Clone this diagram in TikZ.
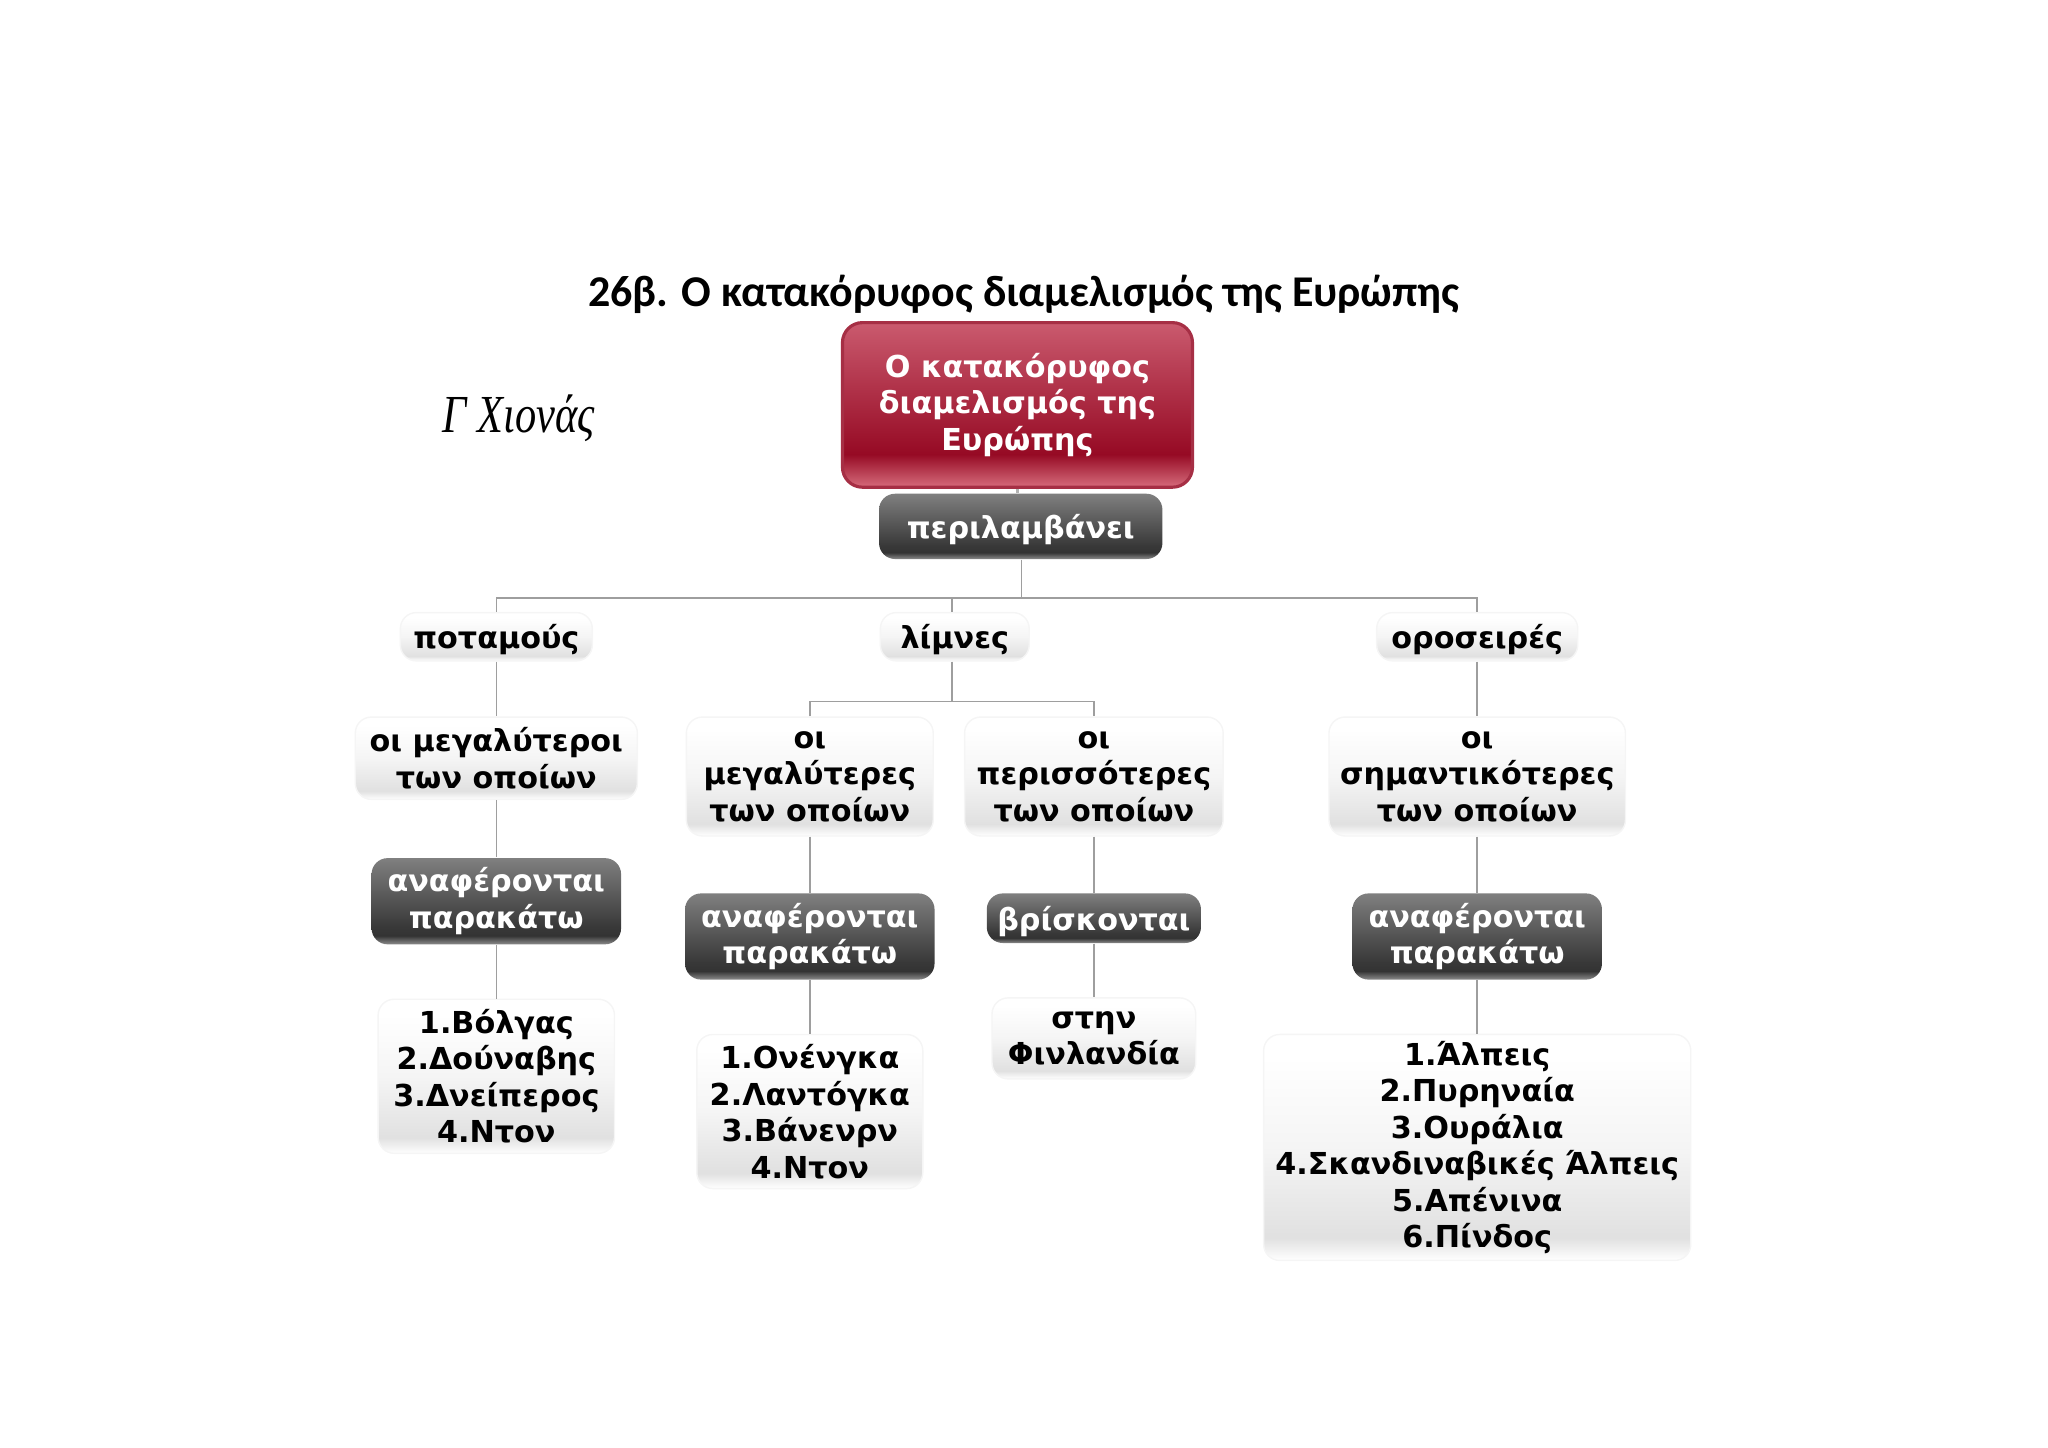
\documentclass[tikz,border=0pt]{standalone}
\usepackage{fontspec}
\newfontfamily\mapfont{DejaVu Sans}
\newfontfamily\titlefont{Carlito}
\newfontfamily\signfont{Liberation Serif}
\usetikzlibrary{positioning}

\pgfdeclareverticalshading{lightfill}{100bp}{
    color(0bp)=(white); color(25bp)=(white); color(30bp)=(black!12);
    color(50bp)=(black!4); color(70bp)=(white); color(100bp)=(white)}
\pgfdeclareverticalshading{darkfill}{100bp}{
    color(0bp)=(black!45); color(25bp)=(black!45); color(30bp)=(black!80);
    color(35bp)=(black!78); color(75bp)=(black!50); color(100bp)=(black!50)}
\definecolor{rootlow}{RGB}{214,108,124}
\definecolor{rootmid}{RGB}{150,10,36}
\definecolor{roottop}{RGB}{202,90,110}
\pgfdeclareverticalshading{rootfill}{100bp}{
    color(0bp)=(rootlow); color(25bp)=(rootlow); color(35bp)=(rootmid);
    color(75bp)=(roottop); color(100bp)=(roottop)}

\tikzset{
    lead/.store in=\leadht, lead=11pt,
    mapbox/.style={align=center, inner sep=0pt, font=\mapfont\bfseries\fontsize{8.6}{10.4}\selectfont,
        execute at begin node=\rule{0pt}{\leadht}},
    oneline/.style={lead=8.6pt},
    lowered/.style={lead=13pt},
    lightbox/.style={mapbox, rounded corners=1.6mm, draw=black!4, line width=0.4pt, shading=lightfill, text=black},
    darkbox/.style={mapbox, rounded corners=1.6mm, shading=darkfill, text=white},
    rootbox/.style={mapbox, rounded corners=2mm, draw=rootmid!85, line width=0.9pt, shading=rootfill, text=white},
    link/.style={draw=black!38, line width=0.45pt}
}

\begin{document}
\begin{tikzpicture}[x=0.013061cm, y=-0.013061cm]
    \useasboundingbox (0,0) rectangle (1568,1108.6);

    % heading and signature
    \node[font=\titlefont\bfseries\fontsize{12.5}{14}\selectfont] (heading) at (784,225) {26β. Ο κατακόρυφος διαμελισμός της Ευρώπης};
    \node[font=\signfont\itshape\fontsize{10.5}{12}\selectfont] (sign) at (397,320) {\scalebox{1.15}[1.45]{Γ Χιονάς}};

    % top
    \node[rootbox, lowered, minimum width=3.50cm, minimum height=1.646cm] (root) at (779,310) {Ο κατακόρυφος\\διαμελισμός της\\Ευρώπης};
    \node[darkbox, oneline, minimum width=2.834cm, minimum height=0.653cm] (incl) at (781.5,403) {περιλαμβάνει};

    % first level
    \node[lightbox, oneline, minimum width=1.92cm, minimum height=0.483cm] (rivers) at (380,487.5) {ποταμούς};
    \node[lightbox, oneline, minimum width=1.489cm, minimum height=0.483cm] (lakes) at (731,487.5) {λίμνες};
    \node[lightbox, oneline, minimum width=2.011cm, minimum height=0.483cm] (ranges) at (1131,487.5) {οροσειρές};

    % second level
    \node[lightbox, minimum width=2.821cm, minimum height=0.823cm] (bigriv) at (380,580.5) {οι μεγαλύτεροι\\των οποίων};
    \node[lightbox, lowered, minimum width=2.469cm, minimum height=1.189cm] (biglake) at (620,594.5) {οι\\μεγαλύτερες\\των οποίων};
    \node[lightbox, lowered, minimum width=2.586cm, minimum height=1.189cm] (mostlake) at (837.5,594.5) {οι\\περισσότερες\\των οποίων};
    \node[lightbox, lowered, minimum width=2.965cm, minimum height=1.189cm] (mainrange) at (1131,594.5) {οι\\σημαντικότερες\\των οποίων};

    % third level
    \node[darkbox, minimum width=2.495cm, minimum height=0.862cm] (listriv) at (380,690) {αναφέρονται\\παρακάτω};
    \node[darkbox, minimum width=2.495cm, minimum height=0.862cm] (listlake) at (620,717) {αναφέρονται\\παρακάτω};
    \node[darkbox, oneline, minimum width=2.142cm, minimum height=0.496cm] (found) at (837.5,703) {βρίσκονται};
    \node[darkbox, minimum width=2.495cm, minimum height=0.862cm] (listrange) at (1131,717) {αναφέρονται\\παρακάτω};

    % lists
    \node[lightbox, minimum width=2.364cm, minimum height=1.541cm] (volga) at (380,824) {1.Βόλγας\\2.Δούναβης\\3.Δνείπερος\\4.Ντον};
    \node[lightbox, minimum width=2.26cm, minimum height=1.541cm] (onega) at (620,851) {1.Ονένγκα\\2.Λαντόγκα\\3.Βάνενρν\\4.Ντον};
    \node[lightbox, lowered, minimum width=2.037cm, minimum height=0.81cm] (finland) at (837.5,795) {στην\\Φινλανδία};
    \node[lightbox, lowered, minimum width=4.271cm, minimum height=2.26cm] (alps) at (1131,878.5) {1.Άλπεις\\2.Πυρηναία\\3.Ουράλια\\4.Σκανδιναβικές Άλπεις\\5.Απένινα\\6.Πίνδος};

    % connectors
    \coordinate (busa) at (782,458);
    \coordinate (busb) at (729,537);
    \draw[link, line width=1pt, black!30] (root.south) -- (root.south |- incl.north);
    \draw[link] (incl.south -| busa) -- (busa);
    \draw[link] (rivers.north) |- (ranges.north |- busa) -- (ranges.north);
    \draw[link] (busb |- busa) -- (busb |- lakes.north);
    \draw[link] (busb |- lakes.south) -- (busb);
    \draw[link] (biglake.north) |- (mostlake.north |- busb) -- (mostlake.north);
    \foreach \a/\b in {rivers/bigriv,bigriv/listriv,listriv/volga,biglake/listlake,listlake/onega,mostlake/found,found/finland,ranges/mainrange,mainrange/listrange,listrange/alps}
    {
    \draw[link] (\a.south) -- (\b.north);
    }
\end{tikzpicture}
\end{document}
